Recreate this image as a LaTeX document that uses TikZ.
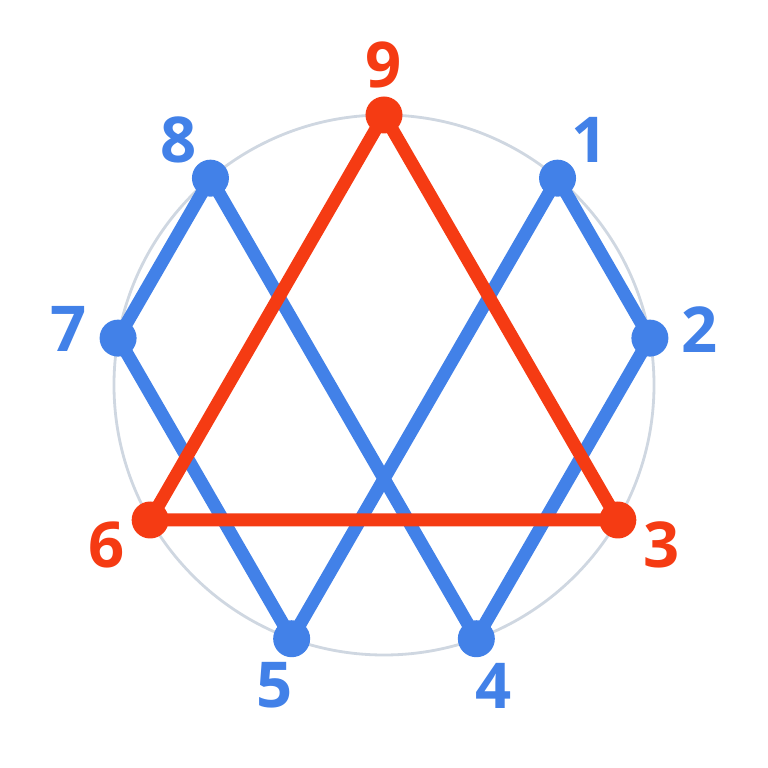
\documentclass[tikz,border=0pt]{standalone}
\usepackage{fontspec}
\setmainfont{Open Sans}
\definecolor{ennblue}{HTML}{4281E8}
\definecolor{ennred}{HTML}{F53B13}
\definecolor{ringgray}{HTML}{CFD7E1}

\begin{document}
\begin{tikzpicture}[
  ring/.style={draw=ringgray, line width=0.8pt},
  blueline/.style={draw=ennblue, line width=0.13cm, line join=round, line cap=round},
  redline/.style={draw=ennred, line width=0.13cm, line join=round, line cap=round},
  bluedot/.style={circle, fill=ennblue, inner sep=0pt, minimum size=0.37cm},
  reddot/.style={circle, fill=ennred, inner sep=0pt, minimum size=0.37cm},
  numlabel/.style={font=\fontsize{18}{18}\selectfont\bfseries, inner sep=0pt}
]
\useasboundingbox (-3.84,-3.83) rectangle (3.84,3.85);

% --- RING AND POINTS ---

\draw[ring] (0,0) circle (2.7);

\foreach \k in {1,...,9} {
  \coordinate (c\k) at (90-40*\k:2.7);
}

% Blue hexad
\draw[blueline] (c1) -- (c2) -- (c4) -- (c8) -- (c7) -- (c5) -- cycle;

\foreach \k in {1,2,4,5,7,8} {
  \node[bluedot] (p\k) at (c\k) {};
  \node[numlabel, text=ennblue] (l\k) at (90-40*\k:3.2) {\k};
}

% Red triangle
\draw[redline] (c9) -- (c3) -- (c6) -- cycle;

\foreach \k in {3,6,9} {
  \node[reddot] (p\k) at (c\k) {};
  \node[numlabel, text=ennred] (l\k) at (90-40*\k:3.2) {\k};
}

\end{tikzpicture}
\end{document}
